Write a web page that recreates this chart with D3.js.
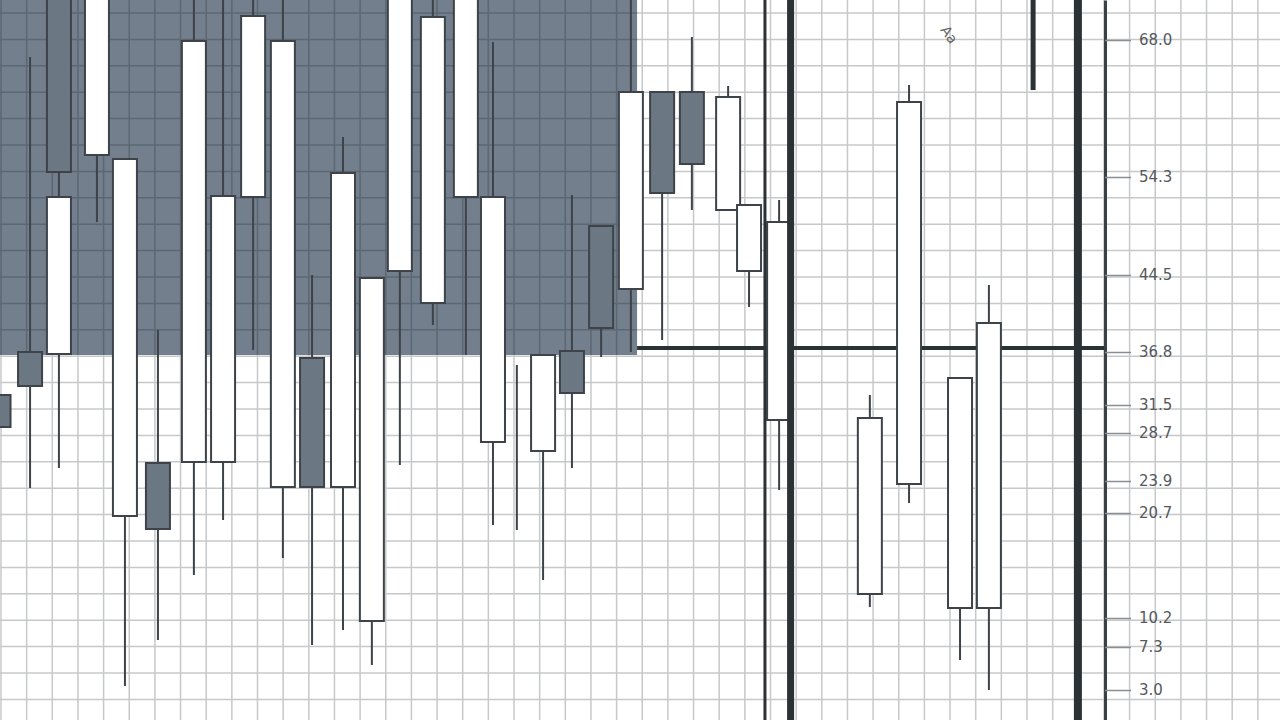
<!DOCTYPE html>
<html><head><meta charset="utf-8">
<script src="https://cdn.jsdelivr.net/npm/d3@7"></script>
<style>html,body{margin:0;padding:0;background:#fff;}svg{display:block;}</style>
</head><body>
<svg id="c" width="1280" height="720"></svg>
<script>
// ---- data ----
const days   = [-0.05, 1.02, 2.00, 2.00, 3.29, 4.24, 5.36, 6.58, 7.57, 8.59, 9.60, 10.59, 11.64, 12.62, 13.57, 14.69, 15.81, 16.73, 17.54, 18.43, 19.41, 20.40, 21.41, 22.47, 23.48, 24.71, 25.42, 26.44, 29.52, 30.85, 32.58, 33.56];
const opens  = [32.5, 36.8, 73.0, 36.6, 56.5, 20.4, 25.7, 25.8, 25.8, 52.3, 23.3, 36.2, 23.3,  9.9, 44.9, 41.7, 52.3, 27.8, 35.5, 26.9, 36.9, 49.4, 43.1, 62.8, 62.8, 51.0, 44.9, 30.0, 12.6, 23.6, 11.2, 11.2];
const highs  = [37.5, 66.3, 73.0, 54.8, 73.0, 56.1, 39.0, 72.0, 72.0, 72.0, 72.0, 44.5, 58.3, 44.2, 73.0, 72.0, 73.0, 67.8, 35.5, 36.5, 52.5, 49.4, 72.0, 62.8, 68.3, 63.4, 51.5, 52.0, 32.5, 63.5, 34.2, 43.5];
const lows   = [13.0, 23.2, 54.8, 25.2, 49.8,  3.4,  8.0, 14.5, 20.0, 37.0, 16.2,  7.5,  9.0,  5.5, 25.5, 39.5, 36.5, 19.5, 19.0, 14.0, 25.2, 36.3, 36.8, 38.0, 51.0, 51.0, 41.3, 23.0, 11.3, 21.7,  6.0,  3.0];
const closes = [29.3, 33.4, 54.8, 52.3, 73.0, 56.1, 19.1, 67.9, 52.4, 70.4, 67.9, 23.3, 54.7, 44.2, 73.0, 70.3, 73.0, 52.3, 35.5, 36.5, 32.7, 39.2, 62.8, 52.7, 55.6, 62.3, 51.5, 49.8, 30.2, 61.8, 34.2, 39.7];

const tickValues = [68.0, 54.3, 44.5, 36.8, 31.5, 28.7, 23.9, 20.7, 10.2, 7.3, 3.0];
const tickLabels = ["68.0", "54.3", "44.5", "36.8", "31.5", "28.7", "23.9", "20.7", "10.2", "7.3", "3.0"];

const shadeDays = [-1, 21.62];
const shadeValues = [36.5, 74];
const vRefDays = [25.96, 26.83, 36.58];
const vRefShortDay = 35.06, vRefShortValue = 63.0;
const hRefValue = 37.2, hRefDays = [21.62, 37.5];

// ---- scales ----
const svg = d3.select("#c");
const W = 1280, H = 720;
const x = d3.scaleLinear().domain([0, 37.5]).range([0, 1105]);
const y = d3.scaleLinear().domain([0, 72]).range([720, 0]);

svg.append("rect").attr("width", W).attr("height", H).attr("fill", "#ffffff");

// grid
const gx = d3.range(1, W, 25.65), gy = d3.range(13, H, 26.4);
const grid = svg.append("g");
grid.selectAll("line.v").data(gx).join("line").attr("class","v")
  .attr("x1", d=>d).attr("x2", d=>d).attr("y1", 0).attr("y2", H)
  .attr("stroke", "#c6c8ca").attr("stroke-width", 1.5);
grid.selectAll("line.h").data(gy).join("line").attr("class","h")
  .attr("y1", d=>d).attr("y2", d=>d).attr("x1", 0).attr("x2", W)
  .attr("stroke", "#c6c8ca").attr("stroke-width", 1.5);

// shaded region
const sx0 = x(shadeDays[0]), sx1 = x(shadeDays[1]);
const sy0 = y(shadeValues[1]), sy1 = y(shadeValues[0]);
svg.append("rect").attr("x", sx0).attr("y", sy0).attr("width", sx1 - sx0).attr("height", sy1 - sy0)
  .attr("fill", "#737f8c");
svg.append("clipPath").attr("id","shclip").append("rect")
  .attr("x", sx0).attr("y", sy0).attr("width", sx1 - sx0).attr("height", sy1 - sy0);
const g2 = svg.append("g").attr("clip-path","url(#shclip)");
g2.selectAll("line.v").data(gx).join("line").attr("class","v")
  .attr("x1", d=>d).attr("x2", d=>d).attr("y1", 0).attr("y2", H)
  .attr("stroke", "#5b6772").attr("stroke-width", 1.5);
g2.selectAll("line.h").data(gy).join("line").attr("class","h")
  .attr("y1", d=>d).attr("y2", d=>d).attr("x1", 0).attr("x2", W)
  .attr("stroke", "#5b6772").attr("stroke-width", 1.5);

// horizontal reference line
svg.append("line").attr("x1", x(hRefDays[0])).attr("x2", x(hRefDays[1]))
  .attr("y1", y(hRefValue)).attr("y2", y(hRefValue))
  .attr("stroke", "#2b3236").attr("stroke-width", 4);

// candles
const data = days.map((d,i)=>({d, o:opens[i], h:highs[i], l:lows[i], c:closes[i]}));
const bw = 24;
const cg = svg.append("g");
cg.selectAll("line.wick").data(data).join("line").attr("class","wick")
  .attr("x1", d=>x(d.d)).attr("x2", d=>x(d.d))
  .attr("y1", d=>y(d.h)).attr("y2", d=>y(d.l))
  .attr("stroke", "#3d4348").attr("stroke-width", 2);
cg.selectAll("rect.body").data(data.filter(d=>d.o !== d.c)).join("rect").attr("class","body")
  .attr("x", d=>x(d.d) - bw/2).attr("width", bw)
  .attr("y", d=>y(Math.max(d.o,d.c)))
  .attr("height", d=>Math.abs(y(d.o) - y(d.c)))
  .attr("fill", d=>d.c >= d.o ? "#ffffff" : "#6b7884")
  .attr("stroke", "#3d4348").attr("stroke-width", 2);

// vertical reference lines
const vw = [3, 7, 8];
svg.selectAll("line.vref").data(vRefDays).join("line").attr("class","vref")
  .attr("x1", d=>x(d)).attr("x2", d=>x(d)).attr("y1", 0).attr("y2", H)
  .attr("stroke", "#2b3236").attr("stroke-width", (d,i)=>vw[i]);
svg.append("line").attr("x1", x(vRefShortDay)).attr("x2", x(vRefShortDay))
  .attr("y1", 0).attr("y2", y(vRefShortValue))
  .attr("stroke", "#2b3236").attr("stroke-width", 5);

// right axis
const axis = d3.axisRight(y).tickValues(tickValues)
  .tickFormat((d,i)=>tickLabels[i]).tickSizeInner(26).tickSizeOuter(0).tickPadding(8);
const ag = svg.append("g").attr("transform", `translate(${x(37.5)},0)`).call(axis);
ag.select(".domain").attr("stroke", "#3a4044").attr("stroke-width", 3);
ag.selectAll(".tick line").attr("stroke", "#8a8f93").attr("stroke-width", 1.5);
ag.selectAll(".tick text").attr("fill", "#55595d").attr("font-size", 15)
  .attr("font-family", "DejaVu Sans, sans-serif");

// small annotation text
svg.append("text").attr("x", 940).attr("y", 30).attr("transform", "rotate(55,940,30)")
  .attr("font-size", 14).attr("fill", "#666").attr("font-family","DejaVu Sans, sans-serif").text("Aa");
</script>
</body></html>
